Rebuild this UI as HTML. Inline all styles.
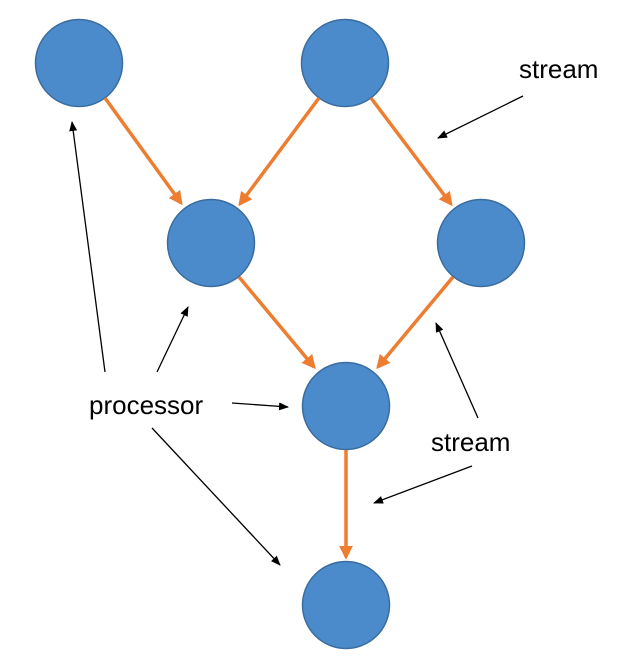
<!DOCTYPE html>
<html><head><meta charset="utf-8"><style>
html,body{margin:0;padding:0;background:#fff;width:635px;height:672px;overflow:hidden}
text{font-family:"Liberation Sans",sans-serif;font-size:26px;fill:#000}
</style></head><body>
<svg width="635" height="672" viewBox="0 0 635 672" xmlns="http://www.w3.org/2000/svg">
<defs>
<marker id="o" markerWidth="4" markerHeight="4" refX="3.2" refY="2" orient="auto" markerUnits="strokeWidth">
<path d="M0,0 L4,2 L0,4 Z" fill="#ED7D31"/></marker>
<marker id="k" markerWidth="10" markerHeight="8" refX="9" refY="4" orient="auto" markerUnits="userSpaceOnUse">
<path d="M0,0 L10,4 L0,8 Z" fill="#000"/></marker>
</defs>
<g fill="#4B8BCC" stroke="#3A6C9E" stroke-width="1.5">
<circle cx="79" cy="63" r="43.5"/>
<circle cx="345" cy="63" r="43.5"/>
<circle cx="211" cy="243" r="43.5"/>
<circle cx="481" cy="243" r="43.5"/>
<circle cx="346" cy="406" r="43.5"/>
<circle cx="346" cy="605" r="43.5"/>
</g>
<g stroke="#ED7D31" stroke-width="3.5" marker-end="url(#o)">
<line x1="105" y1="98" x2="181" y2="203"/>
<line x1="319" y1="98" x2="240" y2="204"/>
<line x1="371" y1="98" x2="451" y2="204"/>
<line x1="239" y1="277" x2="314" y2="367"/>
<line x1="453" y1="277" x2="378" y2="367"/>
<line x1="346" y1="450" x2="346" y2="557"/>
</g>
<g stroke="#000" stroke-width="1.3" marker-end="url(#k)">
<line x1="105" y1="372" x2="72" y2="122"/>
<line x1="157" y1="372" x2="188" y2="307"/>
<line x1="232" y1="403" x2="288" y2="407"/>
<line x1="152" y1="428" x2="280" y2="565"/>
<line x1="523" y1="96" x2="438" y2="138"/>
<line x1="478" y1="418" x2="436" y2="323"/>
<line x1="472" y1="466" x2="374" y2="503"/>
</g>
<text x="89" y="414">processor</text>
<text x="519" y="78">stream</text>
<text x="431" y="451">stream</text>
</svg>
</body></html>
